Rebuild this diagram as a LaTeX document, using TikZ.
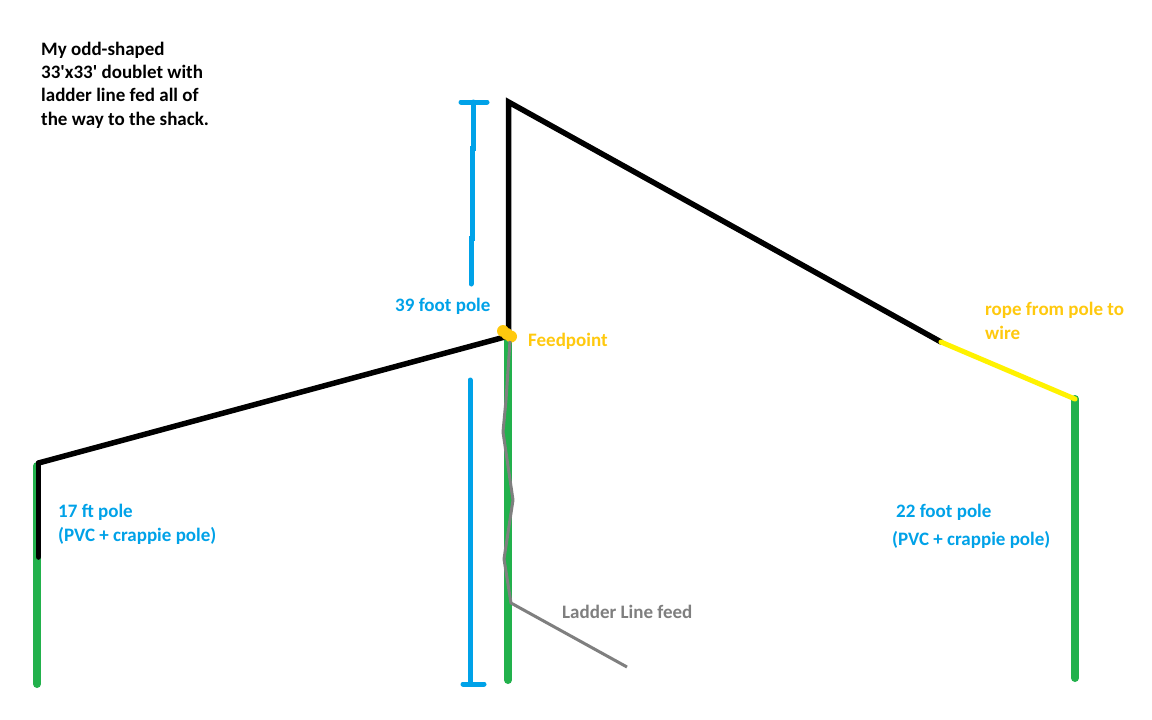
\documentclass[tikz,border=0pt]{standalone}
\usepackage{fontspec}
\setmainfont{Carlito}[Ligatures=TeXOff]
\usepackage{xcolor}
\definecolor{wireblack}{HTML}{000000}
\definecolor{polegreen}{HTML}{22B14C}
\definecolor{dimblue}{HTML}{00A2E8}
\definecolor{feedgold}{HTML}{FFC90E}
\definecolor{ropeyellow}{HTML}{FFF200}
\definecolor{laddergray}{HTML}{7F7F7F}
\tikzset{
  wireline/.style={draw=wireblack, line width=5.5pt, line cap=round},
  poleline/.style={draw=polegreen, line width=8pt, line cap=round},
  dimline/.style={draw=dimblue, line width=5pt, line cap=round},
  ropeline/.style={draw=ropeyellow, line width=5pt, line cap=round},
  ladderline/.style={draw=laddergray, line width=3pt, line join=round},
  lab/.style={font=\fontsize{19}{23.3}\selectfont\bfseries, inner sep=0pt, anchor=base west, align=left},
}
\begin{document}
\begin{tikzpicture}[x=1pt,y=-1pt]
  \useasboundingbox (0,0) rectangle (1152,720);
  \fill[white] (0,0) rectangle (1152,720);
  \coordinate (top) at (508.5,102);
  \coordinate (feed) at (508.5,336);
  \coordinate (midbase) at (508,680);
  \coordinate (ropeend) at (941,342);
  \coordinate (righttop) at (1075,399);
  \coordinate (rightbase) at (1075,678);
  \coordinate (lefttop) at (38.5,463);
  \coordinate (leftjoin) at (38.5,557);
  \coordinate (lefttopb) at (37,466);
  \coordinate (leftbase) at (37,684);
  % poles
  \draw[poleline] (508,340)--(midbase);
  \draw[poleline] (righttop)--(rightbase);
  \draw[poleline] (lefttopb)--(leftbase);
  % wire
  \draw[wireline] (lefttop)--(leftjoin);
  \draw[wireline] (lefttop)--(feed);
  \draw[wireline] (feed)--(top)--(ropeend);
  \draw[ropeline] (ropeend)--(righttop);
  % feedpoint blob
  \fill[feedgold] (503,331) circle (6pt) (507,334) circle (6pt) (511,336.5) circle (6pt);
  % ladder line
  \coordinate (ladderturn) at (511,603);
  \coordinate (ladderend) at (627,667);
  \draw[ladderline] (510,341)--(506,400)--(503,432)--(513,500)--(504,559)--(ladderturn)--(ladderend);
  % dimension marks
  \coordinate (dimtop) at (473,102);
  \coordinate (dimbot) at (471,684);
  \draw[dimline] (461,102)--(487,102);
  \draw[dimline] (dimtop)--(473,148)--(472,148)--(472,238)--(471,238)--(471,284);
  \draw[dimline] (470,380)--(470,684);
  \draw[dimline] (463,684)--(484,684);
  % labels
  \node[lab,text=black] (titletext) at (41,125) {My odd-shaped\\33'x33' doublet with\\ladder line fed all of\\the way to the shack.};
  \node[lab,text=dimblue] (poleA) at (395,311) {39 foot pole};
  \node[lab,text=feedgold] (feedlab) at (528,346) {Feedpoint};
  \node[lab,text=feedgold] (ropelab) at (985,339) {rope from pole to\\wire};
  \node[lab,text=dimblue] (poleB) at (58,541) {17 ft pole\\(PVC + crappie pole)};
  \node[lab,text=dimblue] (poleC) at (896,517) {22 foot pole};
  \node[lab,text=dimblue] (poleD) at (892,545) {(PVC + crappie pole)};
  \node[lab,text=laddergray] (ladderlab) at (562,618) {Ladder Line feed};
\end{tikzpicture}
\end{document}
